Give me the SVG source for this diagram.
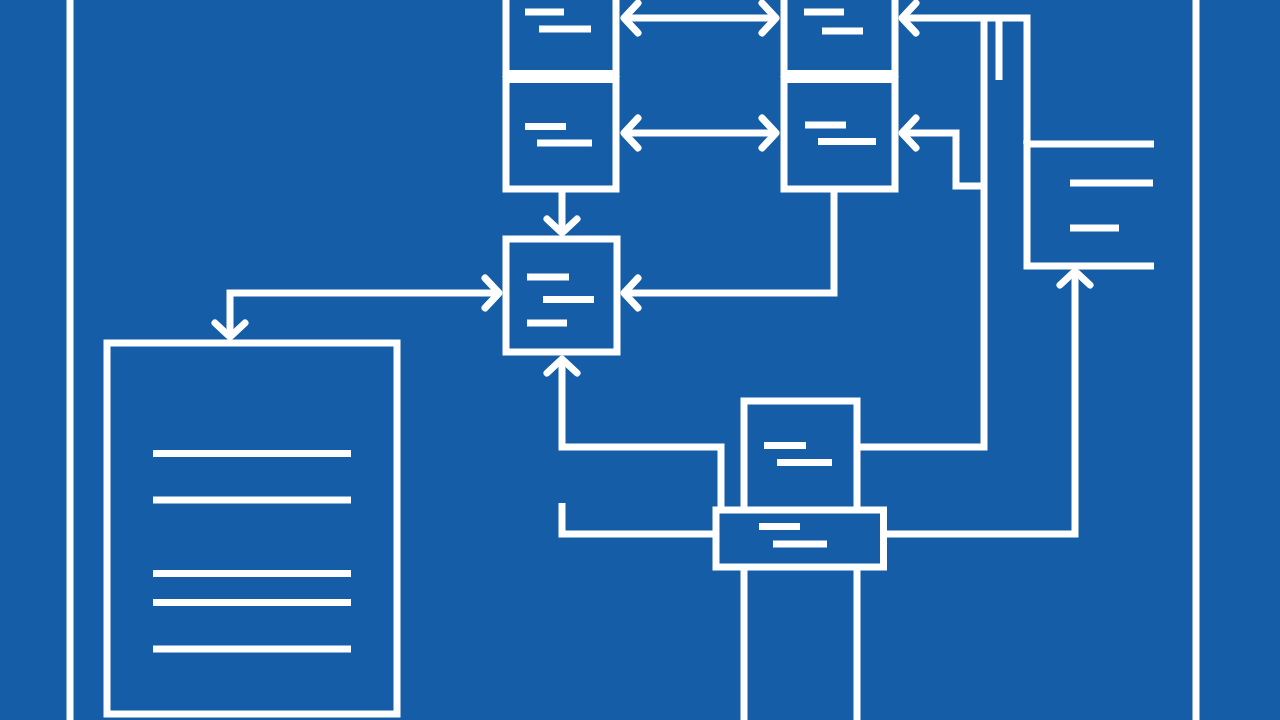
<svg xmlns="http://www.w3.org/2000/svg" width="1280" height="720" viewBox="0 0 1280 720">
  <style>
    .bg { fill: #155EA7; }
    .box { fill: #155EA7; stroke: #FFFFFF; stroke-width: 7; }
    .ln { fill: none; stroke: #FFFFFF; stroke-width: 7; stroke-linecap: butt; stroke-linejoin: miter; }
    .dash { stroke: #FFFFFF; stroke-width: 7; stroke-linecap: butt; }
  </style>
  <defs>
    <marker id="arr" markerUnits="userSpaceOnUse" viewBox="-25 -25 50 50" markerWidth="50" markerHeight="50" refX="0" refY="0" orient="auto-start-reverse" overflow="visible">
      <path d="M-15,-15 L-1,0 L-15,15" fill="none" stroke="#FFFFFF" stroke-width="7" stroke-linecap="round" stroke-linejoin="round"/>
    </marker>
  </defs>
  <rect class="bg" x="0" y="0" width="1280" height="720"/>

  <g id="frame">
    <line class="ln" x1="70" y1="0" x2="70" y2="720"/>
    <line class="ln" x1="1196" y1="0" x2="1196" y2="720"/>
  </g>

  <g id="connectors">
    <path class="ln" d="M623,18 H777" marker-start="url(#arr)" marker-end="url(#arr)"/>
    <path class="ln" d="M623,133 H777" marker-start="url(#arr)" marker-end="url(#arr)"/>
    <path class="ln" d="M562,190 V234" marker-end="url(#arr)"/>
    <path class="ln" d="M834,190 V293 H623" marker-end="url(#arr)"/>
    <path class="ln" d="M500,293 H230 V338" marker-start="url(#arr)" marker-end="url(#arr)"/>
    <path class="ln" d="M721,510 V447 H562 V358" marker-end="url(#arr)"/>
    <path class="ln" d="M857,447 H984 V18"/>
    <path class="ln" d="M1027,144 V18 H901" marker-end="url(#arr)"/>
    <path class="ln" d="M984,186 H956 V133 H901" marker-end="url(#arr)"/>
    <path class="ln" d="M999,18 V80"/>
    <path class="ln" d="M562,503 V534 H716"/>
    <path class="ln" d="M883,534 H1075 V270" marker-end="url(#arr)"/>
  </g>

  <g id="node-top-left-a">
    <rect class="box" x="506" y="-40" width="110" height="113.5"/>
    <line class="dash" x1="525" y1="12" x2="564" y2="12"/>
    <line class="dash" x1="539" y1="29" x2="591" y2="29"/>
  </g>
  <g id="node-top-left-b">
    <rect class="box" x="506" y="79.5" width="110" height="109.5"/>
    <line class="dash" x1="525" y1="126.5" x2="566" y2="126.5"/>
    <line class="dash" x1="537" y1="143" x2="592" y2="143"/>
  </g>
  <g id="node-top-right-a">
    <rect class="box" x="784" y="-40" width="111" height="113.5"/>
    <line class="dash" x1="804" y1="12" x2="844" y2="12"/>
    <line class="dash" x1="822" y1="31" x2="863" y2="31"/>
  </g>
  <g id="node-top-right-b">
    <rect class="box" x="784" y="79.5" width="111" height="109.5"/>
    <line class="dash" x1="805" y1="125" x2="846" y2="125"/>
    <line class="dash" x1="818" y1="141.5" x2="876" y2="141.5"/>
  </g>
  <g id="node-center">
    <rect class="box" x="506" y="239" width="111" height="113"/>
    <line class="dash" x1="527" y1="277" x2="569" y2="277"/>
    <line class="dash" x1="543" y1="299.5" x2="594" y2="299.5"/>
    <line class="dash" x1="527" y1="323" x2="567" y2="323"/>
  </g>
  <g id="node-document">
    <rect class="box" x="107" y="343" width="290" height="371"/>
    <line class="dash" x1="153" y1="453.5" x2="351" y2="453.5"/>
    <line class="dash" x1="153" y1="500" x2="351" y2="500"/>
    <line class="dash" x1="153" y1="573.5" x2="351" y2="573.5"/>
    <line class="dash" x1="153" y1="602.5" x2="351" y2="602.5"/>
    <line class="dash" x1="153" y1="649" x2="351" y2="649"/>
  </g>
  <g id="node-right">
    <path class="ln" d="M1154,144 H1027 V266 H1154"/>
    <line class="dash" x1="1070" y1="183" x2="1153" y2="183"/>
    <line class="dash" x1="1070" y1="228" x2="1119" y2="228"/>
  </g>
  <g id="node-tall">
    <rect class="box" x="744" y="401" width="113" height="340"/>
    <line class="dash" x1="764" y1="445.5" x2="806" y2="445.5"/>
    <line class="dash" x1="777" y1="462.5" x2="832" y2="462.5"/>
  </g>
  <g id="node-wide">
    <rect class="box" x="716" y="510" width="167.5" height="57"/>
    <line class="dash" x1="759" y1="526.5" x2="800" y2="526.5"/>
    <line class="dash" x1="773" y1="544" x2="827" y2="544"/>
  </g>
</svg>
